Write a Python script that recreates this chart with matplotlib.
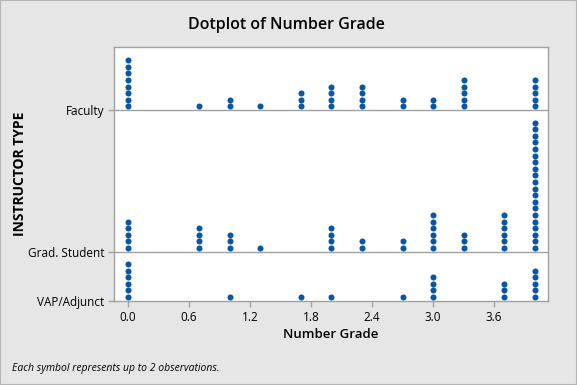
import numpy as np
import matplotlib.pyplot as plt

grades = [0.0, 0.7, 1.0, 1.3, 1.7, 2.0, 2.3, 2.7, 3.0, 3.3, 3.7, 4.0]
groups = ["VAP/Adjunct", "Grad. Student", "Faculty"]
# dot counts per grade (each dot = up to 2 observations)
vap_counts = [6, 0, 1, 0, 1, 1, 0, 1, 4, 0, 3, 5]
grad_counts = [5, 4, 3, 1, 0, 4, 2, 2, 6, 3, 6, 20]
faculty_counts = [8, 1, 2, 1, 3, 4, 4, 2, 2, 5, 0, 5]
x_ticks = [0.0, 0.6, 1.2, 1.8, 2.4, 3.0, 3.6]

bg = "#e6e6e6"
dot_color = "#0a56a6"
edge = "#a0a0a0"

fig = plt.figure(figsize=(5.77, 3.85), dpi=100, facecolor=bg)
ax = fig.add_axes([114 / 577, 1 - 301 / 385, 434 / 577, 254 / 385])
ax.set_facecolor("white")

bases = []
base = 0.0
for counts in [vap_counts, grad_counts, faculty_counts]:
    bases.append(base)
    xs, ys = [], []
    for g, c in zip(grades, counts):
        for k in range(c):
            xs.append(g)
            ys.append(base + 0.6 + k)
    ax.scatter(xs, ys, s=19, color=dot_color, linewidths=0, zorder=3)
    base += max(counts) + 1.45

top = bases[2] + 9.6
ax.set_ylim(0, top)
ax.set_xlim(-0.138, 4.13)

for b in bases[1:]:
    ax.axhline(b, color=edge, lw=1, zorder=2)

ax.set_yticks(bases)
ax.set_yticklabels(groups, fontsize=8.5, family="Open Sans")
ax.set_xticks(x_ticks)
ax.set_xticklabels([f"{t:.1f}" for t in x_ticks], fontsize=8.5, family="Open Sans")
ax.tick_params(axis="both", length=4, color=edge, width=1, pad=3)

for s in ax.spines.values():
    s.set_color(edge)
    s.set_linewidth(1)

ax.set_xlabel("Number Grade", fontsize=9.5, family="Open Sans", fontweight="semibold", labelpad=3)
ax.set_ylabel("INSTRUCTOR TYPE", fontsize=10, family="Open Sans", fontweight="bold")
ax.yaxis.set_label_coords(-0.200, 0.5)

fig.text(286 / 577, 1 - 25 / 385, "Dotplot of Number Grade", ha="center", va="center",
         fontsize=11.5, family="Open Sans", fontweight="semibold")
fig.text(12 / 577, 1 - 369 / 385, "Each symbol represents up to 2 observations.",
         ha="left", va="center", fontsize=7.5, style="italic", family="Open Sans")

# outer frame
fig.patches.append(plt.Rectangle((0, 0), 1, 1, transform=fig.transFigure, fill=False,
                                 edgecolor="#b4b4b4", lw=1.5))

fig.savefig("out.png", dpi=100, facecolor=bg)
